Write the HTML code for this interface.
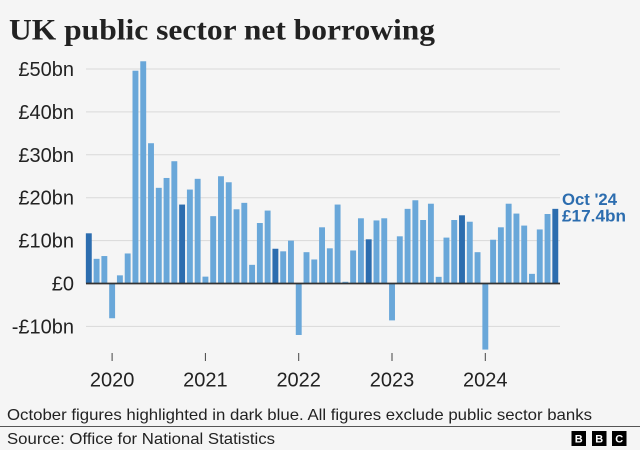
<!DOCTYPE html>
<html><head><meta charset="utf-8"><style>
html,body{margin:0;padding:0;background:#f5f5f5;}
svg{display:block;}
</style></head><body>
<svg width="640" height="450" viewBox="0 0 640 450" xmlns="http://www.w3.org/2000/svg" font-family="'Liberation Sans', sans-serif">
<rect x="0" y="0" width="640" height="450" fill="#f5f5f5"/>
<text x="9" y="39.5" font-family="'Liberation Serif', serif" font-weight="bold" font-size="30" fill="#222" textLength="426" lengthAdjust="spacingAndGlyphs">UK public sector net borrowing</text>

<g stroke="#d9d9d9" stroke-width="1">
<line x1="86" y1="69" x2="560" y2="69"/>
<line x1="86" y1="111.9" x2="560" y2="111.9"/>
<line x1="86" y1="154.8" x2="560" y2="154.8"/>
<line x1="86" y1="197.7" x2="560" y2="197.7"/>
<line x1="86" y1="240.6" x2="560" y2="240.6"/>
<line x1="86" y1="326.4" x2="560" y2="326.4"/>
</g>

<g font-size="20" fill="#222" text-anchor="end">
<text x="74" y="76">£50bn</text>
<text x="74" y="118.9">£40bn</text>
<text x="74" y="161.8">£30bn</text>
<text x="74" y="204.7">£20bn</text>
<text x="74" y="247.6">£10bn</text>
<text x="74" y="290.5">£0</text>
<text x="74" y="333.4">-£10bn</text>
</g>

<g fill="#69a7d9">
<rect x="85.85" y="233.31" width="5.9" height="50.19" fill="#2c6daf"/>
<rect x="93.63" y="258.83" width="5.9" height="24.67"/>
<rect x="101.40" y="256.04" width="5.9" height="27.46"/>
<rect x="109.18" y="283.5" width="5.9" height="34.75"/>
<rect x="116.95" y="275.35" width="5.9" height="8.15"/>
<rect x="124.73" y="253.47" width="5.9" height="30.03"/>
<rect x="132.50" y="70.72" width="5.9" height="212.78"/>
<rect x="140.28" y="61.28" width="5.9" height="222.22"/>
<rect x="148.05" y="143.22" width="5.9" height="140.28"/>
<rect x="155.83" y="187.83" width="5.9" height="95.67"/>
<rect x="163.60" y="177.97" width="5.9" height="105.53"/>
<rect x="171.38" y="161.23" width="5.9" height="122.27"/>
<rect x="179.15" y="204.56" width="5.9" height="78.94" fill="#2c6daf"/>
<rect x="186.93" y="189.55" width="5.9" height="93.95"/>
<rect x="194.70" y="178.82" width="5.9" height="104.68"/>
<rect x="202.48" y="276.64" width="5.9" height="6.86"/>
<rect x="210.25" y="216.15" width="5.9" height="67.35"/>
<rect x="218.03" y="176.25" width="5.9" height="107.25"/>
<rect x="225.80" y="182.26" width="5.9" height="101.24"/>
<rect x="233.58" y="209.28" width="5.9" height="74.22"/>
<rect x="241.35" y="202.85" width="5.9" height="80.65"/>
<rect x="249.13" y="264.84" width="5.9" height="18.66"/>
<rect x="256.90" y="223.01" width="5.9" height="60.49"/>
<rect x="264.68" y="210.57" width="5.9" height="72.93"/>
<rect x="272.45" y="248.75" width="5.9" height="34.75" fill="#2c6daf"/>
<rect x="280.23" y="251.32" width="5.9" height="32.18"/>
<rect x="288.00" y="240.6" width="5.9" height="42.9"/>
<rect x="295.78" y="283.5" width="5.9" height="51.48"/>
<rect x="303.55" y="252.18" width="5.9" height="31.32"/>
<rect x="311.33" y="259.48" width="5.9" height="24.02"/>
<rect x="319.10" y="227.3" width="5.9" height="56.2"/>
<rect x="326.88" y="248.32" width="5.9" height="35.18"/>
<rect x="334.65" y="204.56" width="5.9" height="78.94"/>
<rect x="342.43" y="281.78" width="5.9" height="1.72"/>
<rect x="350.20" y="250.47" width="5.9" height="33.03"/>
<rect x="357.98" y="218.29" width="5.9" height="65.21"/>
<rect x="365.75" y="239.31" width="5.9" height="44.19" fill="#2c6daf"/>
<rect x="373.53" y="220.44" width="5.9" height="63.06"/>
<rect x="381.30" y="218.29" width="5.9" height="65.21"/>
<rect x="389.08" y="283.5" width="5.9" height="36.89"/>
<rect x="396.85" y="236.31" width="5.9" height="47.19"/>
<rect x="404.63" y="208.85" width="5.9" height="74.65"/>
<rect x="412.40" y="200.27" width="5.9" height="83.23"/>
<rect x="420.18" y="220.01" width="5.9" height="63.49"/>
<rect x="427.95" y="203.71" width="5.9" height="79.79"/>
<rect x="435.73" y="276.85" width="5.9" height="6.65"/>
<rect x="443.50" y="237.6" width="5.9" height="45.9"/>
<rect x="451.28" y="220.01" width="5.9" height="63.49"/>
<rect x="459.05" y="215.29" width="5.9" height="68.21" fill="#2c6daf"/>
<rect x="466.83" y="221.72" width="5.9" height="61.78"/>
<rect x="474.60" y="252.18" width="5.9" height="31.32"/>
<rect x="482.38" y="283.5" width="5.9" height="66.07"/>
<rect x="490.15" y="239.74" width="5.9" height="43.76"/>
<rect x="497.93" y="227.3" width="5.9" height="56.2"/>
<rect x="505.70" y="203.71" width="5.9" height="79.79"/>
<rect x="513.48" y="213.57" width="5.9" height="69.93"/>
<rect x="521.25" y="225.58" width="5.9" height="57.92"/>
<rect x="529.03" y="273.85" width="5.9" height="9.65"/>
<rect x="536.80" y="229.45" width="5.9" height="54.05"/>
<rect x="544.58" y="214.0" width="5.9" height="69.5"/>
<rect x="552.35" y="208.85" width="5.9" height="74.65" fill="#2c6daf"/>
</g>

<line x1="86" y1="283.5" x2="560" y2="283.5" stroke="#333" stroke-width="1.7"/>

<g font-weight="bold" font-size="16.5" fill="#2c6daf">
<text x="562" y="205" textLength="55" lengthAdjust="spacingAndGlyphs">Oct '24</text>
<text x="562" y="221.5" textLength="64" lengthAdjust="spacingAndGlyphs">£17.4bn</text>
</g>

<g stroke="#444" stroke-width="1">
<line x1="112.1" y1="353" x2="112.1" y2="361"/>
<line x1="205.4" y1="353" x2="205.4" y2="361"/>
<line x1="298.7" y1="353" x2="298.7" y2="361"/>
<line x1="392.0" y1="353" x2="392.0" y2="361"/>
<line x1="485.3" y1="353" x2="485.3" y2="361"/>
</g>
<g font-size="20" fill="#222" text-anchor="middle">
<text x="112.1" y="386.7">2020</text>
<text x="205.4" y="386.7">2021</text>
<text x="298.7" y="386.7">2022</text>
<text x="392.0" y="386.7">2023</text>
<text x="485.3" y="386.7">2024</text>
</g>

<text x="7" y="420" font-size="16" fill="#222" textLength="585" lengthAdjust="spacingAndGlyphs">October figures highlighted in dark blue. All figures exclude public sector banks</text>
<line x1="0" y1="426.5" x2="640" y2="426.5" stroke="#555" stroke-width="1"/>
<text x="7" y="444" font-size="16" fill="#222" textLength="268" lengthAdjust="spacingAndGlyphs">Source: Office for National Statistics</text>

<g>
<rect x="571.5" y="431" width="14.5" height="15" fill="#000"/>
<rect x="592" y="431" width="14.5" height="15" fill="#000"/>
<rect x="612" y="431" width="14.5" height="15" fill="#000"/>
<g font-weight="bold" font-size="11" fill="#fff" text-anchor="middle">
<text x="578.75" y="442.5">B</text>
<text x="599.25" y="442.5">B</text>
<text x="619.25" y="442.5">C</text>
</g>
</g>
</svg>
</body></html>
